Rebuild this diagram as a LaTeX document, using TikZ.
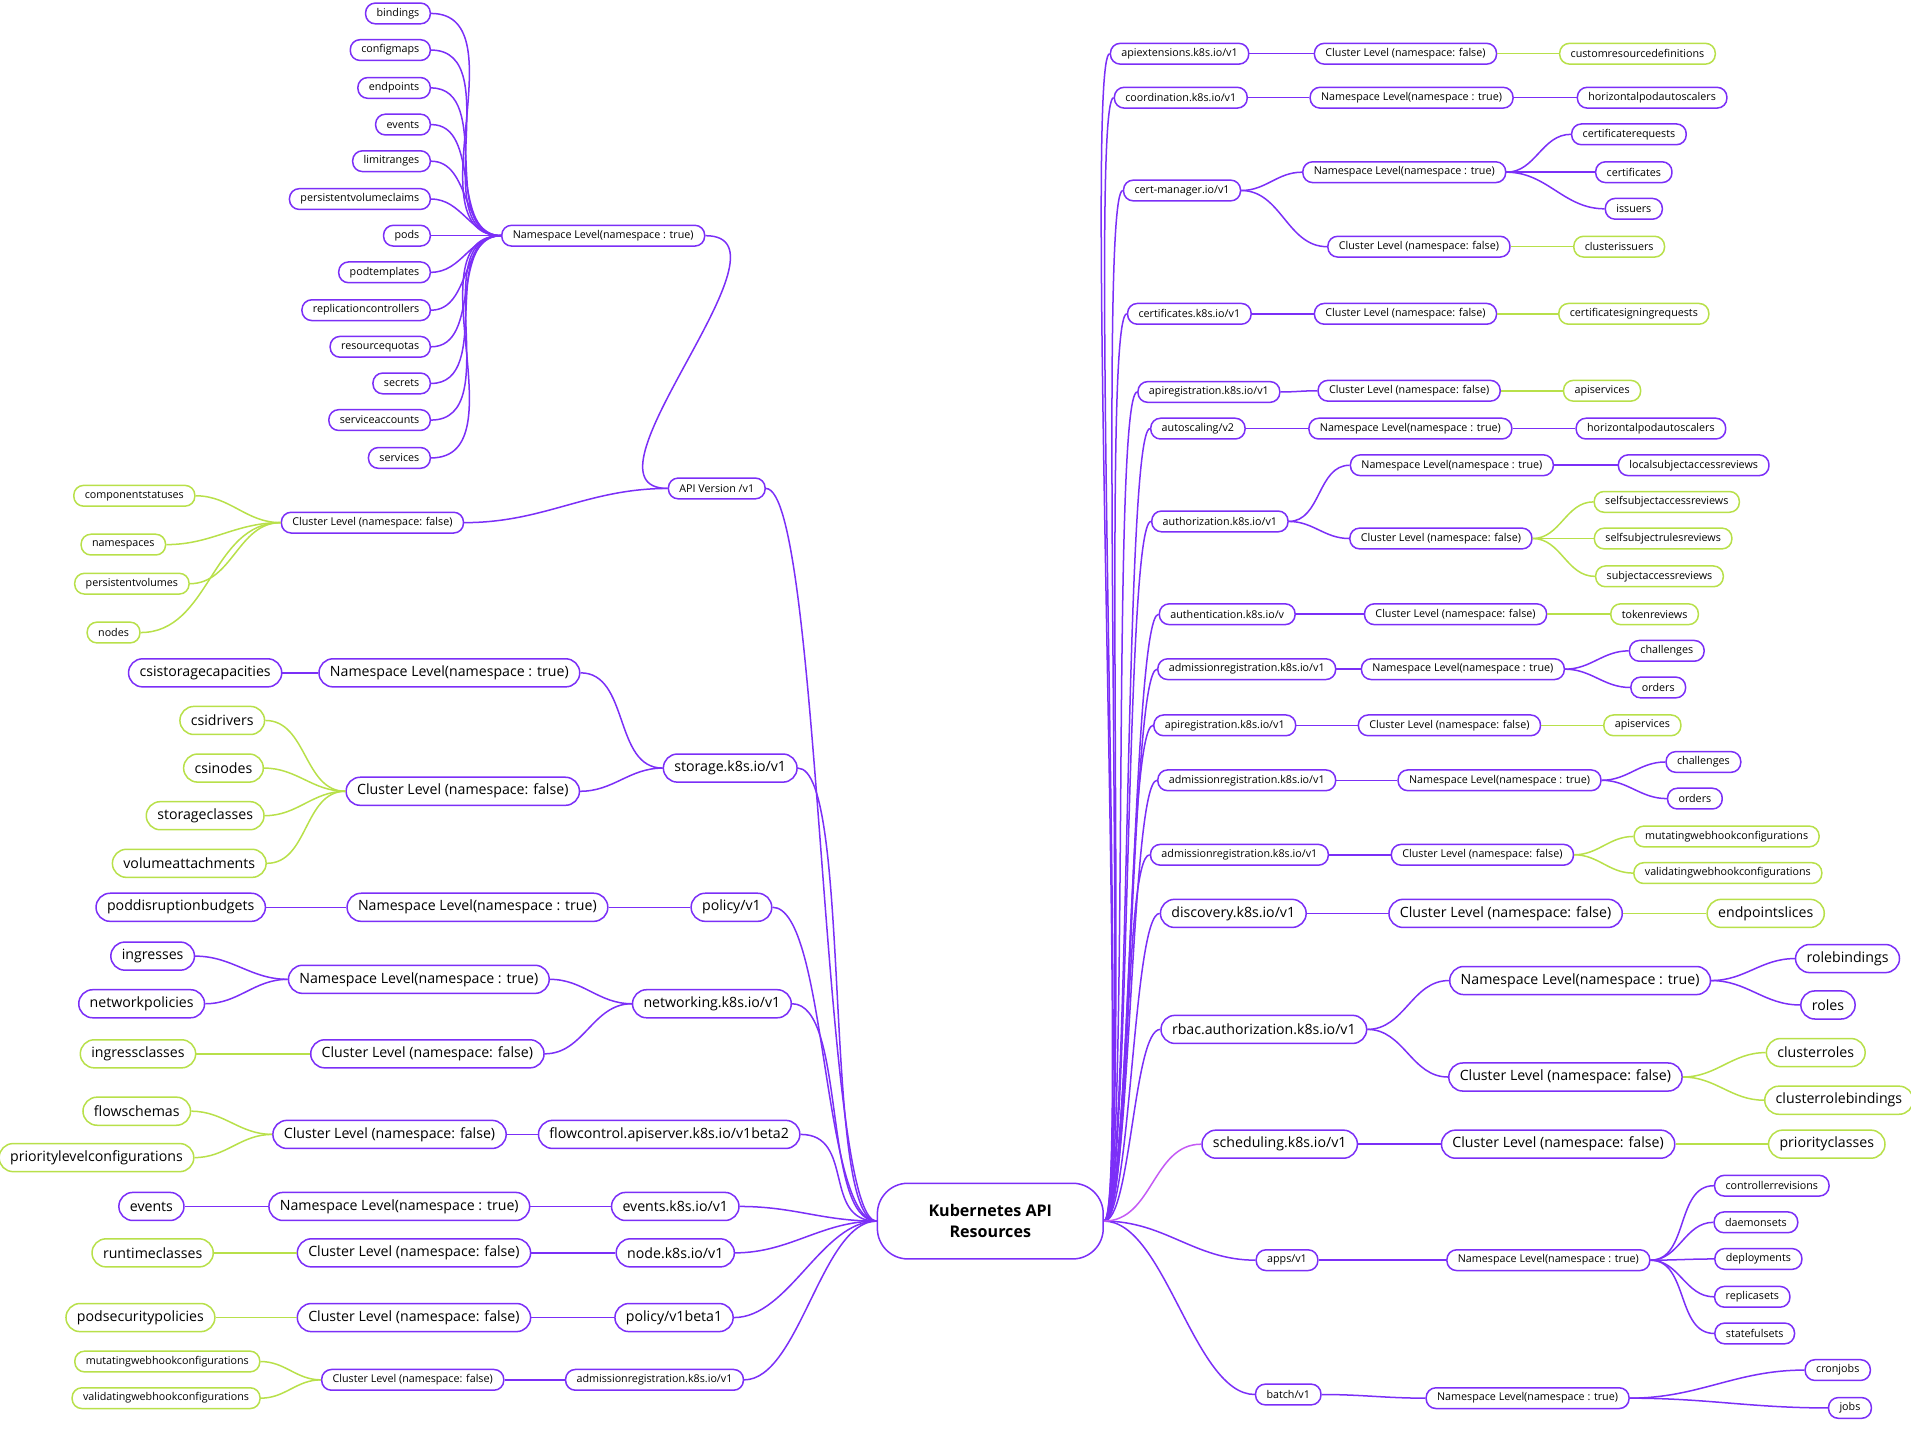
\documentclass[tikz,border=0pt]{standalone}
\usepackage{fontspec}
\setmainfont{Open Sans}
\definecolor{pur}{HTML}{7B2FF7}
\definecolor{grn}{HTML}{B8E04A}
\definecolor{mag}{HTML}{C45AF5}
\newcommand{\smf}{\fontsize{5}{6}\selectfont}
\newcommand{\lgf}{\fontsize{6.6}{8}\selectfont}
\newcommand{\edgeRP}[2]{\draw[pe] (#1.east) to[out=0,in=180] (#2.west);}
\newcommand{\edgeRG}[2]{\draw[ge] (#1.east) to[out=0,in=180] (#2.west);}
\newcommand{\edgeLP}[2]{\draw[pe] (#1.west) to[out=180,in=0] (#2.east);}
\newcommand{\edgeLG}[2]{\draw[ge] (#1.west) to[out=180,in=0] (#2.east);}
\newcommand{\hubR}[1]{\draw[pe] (C.east) .. controls +(22,0) and +(-22,0) .. (#1.west);}
\newcommand{\hubL}[1]{\draw[pe] (C.west) .. controls +(-45,0) and +(45,0) .. (#1.east);}
\tikzset{
 base/.style={draw,fill=white,line width=0.7pt,inner xsep=1.8mm,inner ysep=0pt,text=black},
 ps/.style={base,draw=pur,rounded corners=1.6mm,minimum height=3.4mm,font=\smf},
 gs/.style={base,draw=grn,rounded corners=1.6mm,minimum height=3.4mm,font=\smf},
 pl/.style={base,draw=pur,rounded corners=2.3mm,minimum height=4.6mm,font=\lgf},
 gl/.style={base,draw=grn,rounded corners=2.3mm,minimum height=4.6mm,font=\lgf},
 pe/.style={draw=pur,line width=0.7pt},
 ge/.style={draw=grn,line width=0.7pt},
}
\begin{document}
\begin{tikzpicture}[x=0.02cm,y=-0.02cm]
\useasboundingbox (0,0) rectangle (1565,1171);
% hub edges first (drawn under nodes)
\coordinate (Cw) at (718,1000); \coordinate (Ce) at (904,1000);
\node[base,draw=pur,rounded corners=5mm,minimum width=3.7cm,minimum height=1.24cm,align=center,font=\fontsize{7.5}{10}\selectfont\bfseries] (C) at (811,1000) {Kubernetes API\\Resources};
% ---------- left ----------
\node[ps] (api) at (587,400) {API Version /v1};
\node[ps] (apin) at (494,193) {Namespace Level(namespace : true)};
\foreach \n/\t/\y in {a1/bindings/11,a2/configmaps/41,a3/endpoints/72,a4/events/102,a5/limitranges/132,a6/persistentvolumeclaims/163,a7/pods/193,a8/podtemplates/223,a9/replicationcontrollers/254,a10/resourcequotas/284,a11/secrets/314,a12/serviceaccounts/344,a13/services/375}
 {\node[ps,anchor=east] (\n) at (353,\y) {\t}; \edgeLP{apin}{\n}}
\node[ps] (apic) at (305,428) {Cluster Level (namespace: false)};
\node[gs] (b1) at (110,406) {componentstatuses};
\node[gs] (b2) at (101,446) {namespaces};
\node[gs] (b3) at (108,478) {persistentvolumes};
\node[gs] (b4) at (93,518) {nodes};
\foreach \n in {b1,b2,b3,b4}{\edgeLG{apic}{\n}}
\edgeLP{api}{apin}\edgeLP{api}{apic}

\node[pl] (st) at (598,629) {storage.k8s.io/v1};
\node[pl] (stn) at (368,551) {Namespace Level(namespace : true)};
\node[pl] (st1) at (168,551) {csistoragecapacities};
\node[pl] (stc) at (379,648) {Cluster Level (namespace: false)};
\node[gl] (st2) at (182,590) {csidrivers};
\node[gl] (st3) at (183,629) {csinodes};
\node[gl] (st4) at (168,668) {storageclasses};
\node[gl] (st5) at (155,707) {volumeattachments};
\edgeLP{st}{stn}\edgeLP{st}{stc}\edgeLP{stn}{st1}
\foreach \n in {st2,st3,st4,st5}{\edgeLG{stc}{\n}}

\node[pl] (po) at (599,743) {policy/v1};
\node[pl] (pon) at (391,743) {Namespace Level(namespace : true)};
\node[pl] (po1) at (148,743) {poddisruptionbudgets};
\edgeLP{po}{pon}\edgeLP{pon}{po1}

\node[pl] (ne) at (583,822) {networking.k8s.io/v1};
\node[pl] (nen) at (343,802) {Namespace Level(namespace : true)};
\node[pl] (ne1) at (125,783) {ingresses};
\node[pl] (ne2) at (116,822) {networkpolicies};
\node[pl] (nec) at (350,863) {Cluster Level (namespace: false)};
\node[gl] (ne3) at (113,863) {ingressclasses};
\edgeLP{ne}{nen}\edgeLP{ne}{nec}\edgeLP{nen}{ne1}\edgeLP{nen}{ne2}\edgeLG{nec}{ne3}

\node[pl] (fc) at (548,929) {flowcontrol.apiserver.k8s.io/v1beta2};
\node[pl] (fcc) at (319,929) {Cluster Level (namespace: false)};
\node[gl] (fc1) at (112,910) {flowschemas};
\node[gl] (fc2) at (79,948) {prioritylevelconfigurations};
\edgeLP{fc}{fcc}\edgeLG{fcc}{fc1}\edgeLG{fcc}{fc2}

\node[pl] (ev) at (553,988) {events.k8s.io/v1};
\node[pl] (evn) at (327,988) {Namespace Level(namespace : true)};
\node[pl] (ev1) at (124,988) {events};
\edgeLP{ev}{evn}\edgeLP{evn}{ev1}

\node[pl] (nd) at (553,1026) {node.k8s.io/v1};
\node[pl] (ndc) at (339,1026) {Cluster Level (namespace: false)};
\node[gl] (nd1) at (125,1026) {runtimeclasses};
\edgeLP{nd}{ndc}\edgeLG{ndc}{nd1}

\node[pl] (pb) at (552,1079) {policy/v1beta1};
\node[pl] (pbc) at (339,1079) {Cluster Level (namespace: false)};
\node[gl] (pb1) at (115,1079) {podsecuritypolicies};
\edgeLP{pb}{pbc}\edgeLG{pbc}{pb1}

\node[ps] (ad) at (536,1130) {admissionregistration.k8s.io/v1};
\node[ps] (adc) at (338,1130) {Cluster Level (namespace: false)};
\node[gs] (ad1) at (137,1115) {mutatingwebhookconfigurations};
\node[gs] (ad2) at (136,1145) {validatingwebhookconfigurations};
\edgeLP{ad}{adc}\edgeLG{adc}{ad1}\edgeLG{adc}{ad2}

\foreach \n in {api,st,po,ne,fc,ev,nd,pb,ad}{\hubL{\n}}

% ---------- right ----------
\node[ps] (r1) at (966,44) {apiextensions.k8s.io/v1};
\node[ps] (r1c) at (1151,44) {Cluster Level (namespace: false)};
\node[gs] (r1a) at (1341,44) {customresourcedefinitions};
\edgeRP{r1}{r1c}\edgeRG{r1c}{r1a}

\node[ps] (r2) at (967,80) {coordination.k8s.io/v1};
\node[ps] (r2n) at (1156,80) {Namespace Level(namespace : true)};
\node[ps] (r2a) at (1353,80) {horizontalpodautoscalers};
\edgeRP{r2}{r2n}\edgeRP{r2n}{r2a}

\node[ps] (r3) at (968,156) {cert-manager.io/v1};
\node[ps] (r3n) at (1150,141) {Namespace Level(namespace : true)};
\node[ps] (r3a) at (1334,110) {certificaterequests};
\node[ps] (r3b) at (1338,141) {certificates};
\node[ps] (r3d) at (1338,171) {issuers};
\node[ps] (r3c) at (1162,202) {Cluster Level (namespace: false)};
\node[gs] (r3e) at (1326,202) {clusterissuers};
\edgeRP{r3}{r3n}\edgeRP{r3}{r3c}\edgeRP{r3n}{r3a}\edgeRP{r3n}{r3b}\edgeRP{r3n}{r3d}\edgeRG{r3c}{r3e}

\node[ps] (r4) at (974,257) {certificates.k8s.io/v1};
\node[ps] (r4c) at (1151,257) {Cluster Level (namespace: false)};
\node[gs] (r4a) at (1338,257) {certificatesigningrequests};
\edgeRP{r4}{r4c}\edgeRG{r4c}{r4a}

\node[ps] (r5) at (990,321) {apiregistration.k8s.io/v1};
\node[ps] (r5c) at (1154,320) {Cluster Level (namespace: false)};
\node[gs] (r5a) at (1312,320) {apiservices};
\edgeRP{r5}{r5c}\edgeRG{r5c}{r5a}

\node[ps] (r6) at (981,351) {autoscaling/v2};
\node[ps] (r6n) at (1155,351) {Namespace Level(namespace : true)};
\node[ps] (r6a) at (1352,351) {horizontalpodautoscalers};
\edgeRP{r6}{r6n}\edgeRP{r6n}{r6a}

\node[ps] (r7) at (999,427) {authorization.k8s.io/v1};
\node[ps] (r7n) at (1189,381) {Namespace Level(namespace : true)};
\node[ps] (r7a) at (1387,381) {localsubjectaccessreviews};
\node[ps] (r7c) at (1180,441) {Cluster Level (namespace: false)};
\node[gs] (r7b) at (1365,411) {selfsubjectaccessreviews};
\node[gs] (r7d) at (1362,441) {selfsubjectrulesreviews};
\node[gs] (r7e) at (1359,472) {subjectaccessreviews};
\edgeRP{r7}{r7n}\edgeRP{r7}{r7c}\edgeRP{r7n}{r7a}\edgeRG{r7c}{r7b}\edgeRG{r7c}{r7d}\edgeRG{r7c}{r7e}

\node[ps] (r8) at (1005,503) {authentication.k8s.io/v};
\node[ps] (r8c) at (1192,503) {Cluster Level (namespace: false)};
\node[gs] (r8a) at (1355,503) {tokenreviews};
\edgeRP{r8}{r8c}\edgeRG{r8c}{r8a}

\node[ps] (r9) at (1021,548) {admissionregistration.k8s.io/v1};
\node[ps] (r9n) at (1198,548) {Namespace Level(namespace : true)};
\node[ps] (r9a) at (1365,533) {challenges};
\node[ps] (r9b) at (1358,563) {orders};
\edgeRP{r9}{r9n}\edgeRP{r9n}{r9a}\edgeRP{r9n}{r9b}

\node[ps] (r10) at (1003,594) {apiregistration.k8s.io/v1};
\node[ps] (r10c) at (1187,594) {Cluster Level (namespace: false)};
\node[gs] (r10a) at (1345,594) {apiservices};
\edgeRP{r10}{r10c}\edgeRG{r10c}{r10a}

\node[ps] (r11) at (1021,639) {admissionregistration.k8s.io/v1};
\node[ps] (r11n) at (1228,639) {Namespace Level(namespace : true)};
\node[ps] (r11a) at (1395,624) {challenges};
\node[ps] (r11b) at (1388,654) {orders};
\edgeRP{r11}{r11n}\edgeRP{r11n}{r11a}\edgeRP{r11n}{r11b}

\node[ps] (r12) at (1015,700) {admissionregistration.k8s.io/v1};
\node[ps] (r12c) at (1214,700) {Cluster Level (namespace: false)};
\node[gs] (r12a) at (1414,685) {mutatingwebhookconfigurations};
\node[gs] (r12b) at (1415,715) {validatingwebhookconfigurations};
\edgeRP{r12}{r12c}\edgeRG{r12c}{r12a}\edgeRG{r12c}{r12b}

\node[pl] (r13) at (1010,748) {discovery.k8s.io/v1};
\node[pl] (r13c) at (1233,748) {Cluster Level (namespace: false)};
\node[gl] (r13a) at (1446,748) {endpointslices};
\edgeRP{r13}{r13c}\edgeRG{r13c}{r13a}

\node[pl] (r14) at (1035,843) {rbac.authorization.k8s.io/v1};
\node[pl] (r14n) at (1294,803) {Namespace Level(namespace : true)};
\node[pl] (r14a) at (1513,785) {rolebindings};
\node[pl] (r14b) at (1497,823) {roles};
\node[pl] (r14c) at (1282,882) {Cluster Level (namespace: false)};
\node[gl] (r14d) at (1487,862) {clusterroles};
\node[gl] (r14e) at (1506,901) {clusterrolebindings};
\edgeRP{r14}{r14n}\edgeRP{r14}{r14c}\edgeRP{r14n}{r14a}\edgeRP{r14n}{r14b}\edgeRG{r14c}{r14d}\edgeRG{r14c}{r14e}

\node[pl] (r15) at (1048,937) {scheduling.k8s.io/v1};
\node[pl] (r15c) at (1276,937) {Cluster Level (namespace: false)};
\node[gl] (r15a) at (1496,937) {priorityclasses};
\edgeRP{r15}{r15c}\edgeRG{r15c}{r15a}

\node[ps] (r16) at (1054,1032) {apps/v1};
\node[ps] (r16n) at (1268,1032) {Namespace Level(namespace : true)};
\foreach \n/\t/\y/\x in {s1/controllerrevisions/971/1451,s2/daemonsets/1001/1438,s3/deployments/1031/1440,s4/replicasets/1062/1435,s5/statefulsets/1092/1437}
 {\node[ps] (\n) at (\x,\y) {\t}; \edgeRP{r16n}{\n}}
\edgeRP{r16}{r16n}

\node[ps] (r17) at (1055,1142) {batch/v1};
\node[ps] (r17n) at (1251,1145) {Namespace Level(namespace : true)};
\node[ps] (r17a) at (1505,1122) {cronjobs};
\node[ps] (r17b) at (1515,1153) {jobs};
\edgeRP{r17}{r17n}\edgeRP{r17n}{r17a}\edgeRP{r17n}{r17b}

\foreach \n in {r1,r2,r3,r4,r5,r6,r7,r8,r9,r10,r11,r12,r13,r14}{\hubR{\n}}
\draw[pe] (C.east) .. controls +(50,0) and +(-50,0) .. (r16.west);
\draw[pe] (C.east) .. controls +(50,0) and +(-50,0) .. (r17.west);
\draw[draw=mag,line width=0.7pt] (C.east) .. controls +(40,0) and +(-40,0) .. (r15.west);
\end{tikzpicture}
\end{document}
